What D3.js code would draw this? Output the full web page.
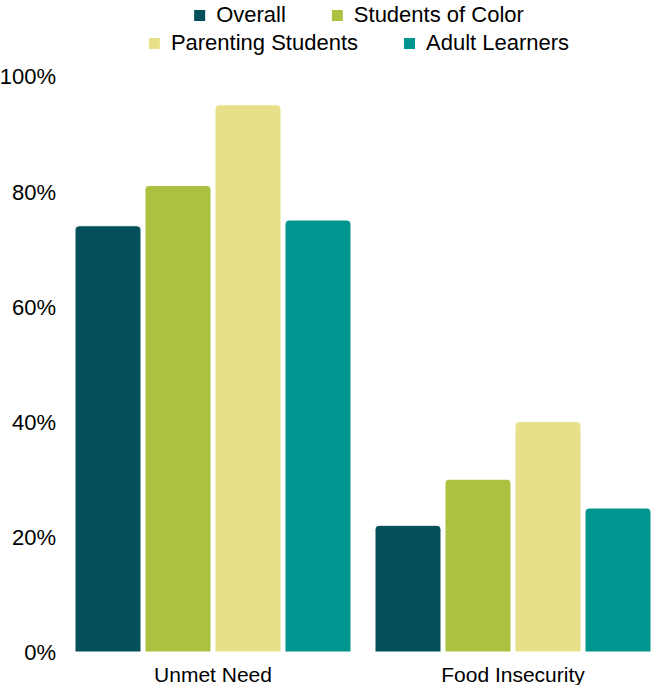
<!DOCTYPE html>
<html>
<head>
<meta charset="utf-8">
<script src="https://cdn.jsdelivr.net/npm/d3@7"></script>
<style>
  body { margin: 0; background: #fff; }
  text { font-family: "Liberation Sans", Arial, sans-serif; fill: #000; }
</style>
</head>
<body>
<svg id="chart"></svg>
<script>
// Set data
const categories = ["Unmet Need", "Food Insecurity"];
const seriesNames = ["Overall", "Students of Color", "Parenting Students", "Adult Learners"];
const seriesColors = ["#03505a", "#abc241", "#e7e088", "#00968f"];
const overall = [74, 22];
const studentsOfColor = [81, 30];
const parentingStudents = [95, 40];
const adultLearners = [75, 25];
const yTicks = [0, 20, 40, 60, 80, 100];

const seriesValues = [overall, studentsOfColor, parentingStudents, adultLearners];

// Set width and height
const width = 651;
const height = 685;

const svg = d3.select("#chart")
    .attr("width", width)
    .attr("height", height);

// scales
const x0 = d3.scaleBand()
    .domain(categories)
    .range([75, 651])
    .paddingInner(0.08);

const x1 = d3.scaleBand()
    .domain(seriesNames)
    .range([0, x0.bandwidth()])
    .paddingInner(0.057);

const y = d3.scaleLinear()
    .domain([0, 100])
    .range([652, 76]);

// y axis
const yAxis = d3.axisLeft(y)
    .tickValues(yTicks)
    .tickFormat(d => d + "%")
    .tickSize(0)
    .tickPadding(0);

const yAxisG = svg.append("g")
    .attr("transform", "translate(56,0)")
    .call(yAxis);
yAxisG.select(".domain").remove();
yAxisG.selectAll("text")
    .attr("font-family", "Liberation Sans, Arial, sans-serif")
    .style("font-size", "22px")
    .attr("fill", "#000")
    .attr("dy", "0.36em");

// x axis labels
const xAxis = d3.axisBottom(x0).tickSize(0).tickPadding(0);
const xAxisG = svg.append("g")
    .attr("transform", "translate(0,652)")
    .call(xAxis);
xAxisG.select(".domain").remove();
xAxisG.selectAll("text")
    .attr("font-family", "Liberation Sans, Arial, sans-serif")
    .style("font-size", "21px")
    .attr("fill", "#000")
    .attr("dy", "0")
    .attr("y", 30);

// bars with rounded top corners
const r = 4;
const topRounded = function(x, yTop, w, h){
    return "M" + x + "," + (yTop + h) +
        "V" + (yTop + r) +
        "Q" + x + "," + yTop + " " + (x + r) + "," + yTop +
        "H" + (x + w - r) +
        "Q" + (x + w) + "," + yTop + " " + (x + w) + "," + (yTop + r) +
        "V" + (yTop + h) + "Z";
}

const groups = svg.append("g").selectAll("g")
    .data(categories)
    .join("g")
    .attr("transform", d => "translate(" + x0(d) + ",0)");

groups.selectAll("path")
    .data((cat, ci) => seriesNames.map((s, si) => ({series: s, idx: si, value: seriesValues[si][ci]})))
    .join("path")
    .attr("d", d => topRounded(x1(d.series), y(d.value), x1.bandwidth(), y(0) - y(d.value)))
    .attr("fill", d => seriesColors[d.idx])
    .attr("stroke", "#fff")
    .attr("stroke-width", 1);

// legend
const legendRows = [[0, 1], [2, 3]];
const legendY = [22, 50];
const legendCenter = 359;
const sq = 11, sqGap = 11, itemGap = 46;

legendRows.forEach((row, ri) => {
    const g = svg.append("g");
    let cursor = 0;
    row.forEach((si, k) => {
        if (k > 0) cursor += itemGap;
        g.append("rect")
            .attr("x", cursor).attr("y", legendY[ri] - 12)
            .attr("width", sq).attr("height", sq)
            .attr("fill", seriesColors[si]);
        cursor += sq + sqGap;
        const t = g.append("text")
            .attr("x", cursor).attr("y", legendY[ri])
            .style("font-size", "22px")
            .text(seriesNames[si]);
        cursor += t.node().getComputedTextLength();
    });
    g.attr("transform", "translate(" + (legendCenter - cursor / 2) + ",0)");
});
</script>
</body>
</html>
